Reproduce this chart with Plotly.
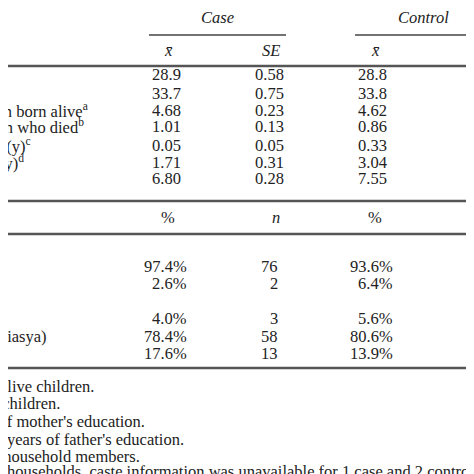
import plotly.graph_objects as go

groups = ["Case", "Control"]
cont_labels = ["Mother's age (y)", "Father's age (y)", "Number of children born alive<sup>a</sup>",
               "Number of children who died<sup>b</sup>", "Mother's education (y)<sup>c</sup>",
               "Father's education (y)<sup>d</sup>", "Household size<sup>e</sup>"]
case_mean = ["28.9", "33.7", "4.68", "1.01", "0.05", "1.71", "6.80"]
case_se = ["0.58", "0.75", "0.23", "0.13", "0.05", "0.31", "0.28"]
ctrl_mean = ["28.8", "33.8", "4.62", "0.86", "0.33", "3.04", "7.55"]
ctrl_se = ["0.62", "0.73", "0.22", "0.11", "0.12", "0.45", "0.31"]
cat_labels = ["Hindu", "Other", "Brahmin", "(Kshatriya/Viasya)", "Other"]
case_pct = ["97.4%", "2.6%", "4.0%", "78.4%", "17.6%"]
case_n = ["76", "2", "3", "58", "13"]
ctrl_pct = ["93.6%", "6.4%", "5.6%", "80.6%", "13.9%"]
ctrl_n = ["73", "5", "4", "58", "10"]
footnotes = ["<sup>a</sup> Number of live children.", "<sup>b</sup> Number of dead children.",
             "<sup>c</sup> Years of mother's education.", "<sup>d</sup> Number of years of father's education.",
             "<sup>e</sup> Number of household members."]
last_note = "households, caste information was unavailable for 1 case and 2 control households."

W = 474.0
FONT = dict(family="Liberation Serif, Times New Roman, serif", size=16.5, color="#222")
ann = []
def t(x, y, s, anchor="center", italic=False):
    if italic:
        s = "<i>" + s + "</i>"
    ann.append(dict(x=x / W, y=1 - y / W, text=s, xref="paper", yref="paper", showarrow=False,
                    xanchor=anchor, yanchor="middle", font=FONT))

t(209, 10, groups[0], italic=True)
t(415, 10, groups[1], italic=True)
t(160, 42, "x̄", italic=True); t(263, 42, "SE", italic=True)
t(367, 42, "x̄", italic=True); t(472, 42, "SE", italic=True)

rows1 = [67, 85, 102, 119, 137, 154, 171]
label_end = [-8, -8, 82, 78, 25, 18, -8]
for i, y in enumerate(rows1):
    t(label_end[i], y, cont_labels[i], "right")
    t(175, y, case_mean[i], "right")
    t(278, y, case_se[i], "right")
    t(381, y, ctrl_mean[i], "right")
    t(491, y, ctrl_se[i], "right")

t(160, 210, "%"); t(268, 210, "n", italic=True)
t(367, 210, "%"); t(476, 210, "n", italic=True)

rows2 = [258, 275, 310, 328, 345]
cat_end = [-8, -8, -8, 41, -8]
for i, y in enumerate(rows2):
    t(cat_end[i], y, cat_labels[i], "right")
    t(181, y, case_pct[i], "right")
    t(272, y, case_n[i], "right")
    t(387, y, ctrl_pct[i], "right")
    t(484, y, ctrl_n[i], "right")

note_y = [377, 394, 412, 430, 447]
note_end = [88, 54, 139, 178, 134]
for i, y in enumerate(note_y):
    t(note_end[i], y, footnotes[i], "right")
t(-3, 463, last_note, "left")

shapes = []
def line(x0, x1, y, w, c="#555"):
    shapes.append(dict(type="line", xref="x", yref="y", x0=x0, x1=x1, y0=y, y1=y,
                       line=dict(color=c, width=w)))
line(141, 278, 27, 1.5, "#444")
line(347, 474, 27, 1.5, "#444")
line(0, 474, 58, 2.5)
line(0, 474, 193, 2.5)
line(0, 474, 226, 2.5)
line(0, 474, 360, 2.5)

fig = go.Figure()
fig.update_layout(width=474, height=474, margin=dict(l=0, r=0, t=0, b=0),
                  paper_bgcolor="white", plot_bgcolor="white",
                  xaxis=dict(range=[0, 474], visible=False, fixedrange=True),
                  yaxis=dict(range=[474, 0], visible=False, fixedrange=True),
                  annotations=ann, shapes=shapes, showlegend=False)
fig.write_html("out.html")
